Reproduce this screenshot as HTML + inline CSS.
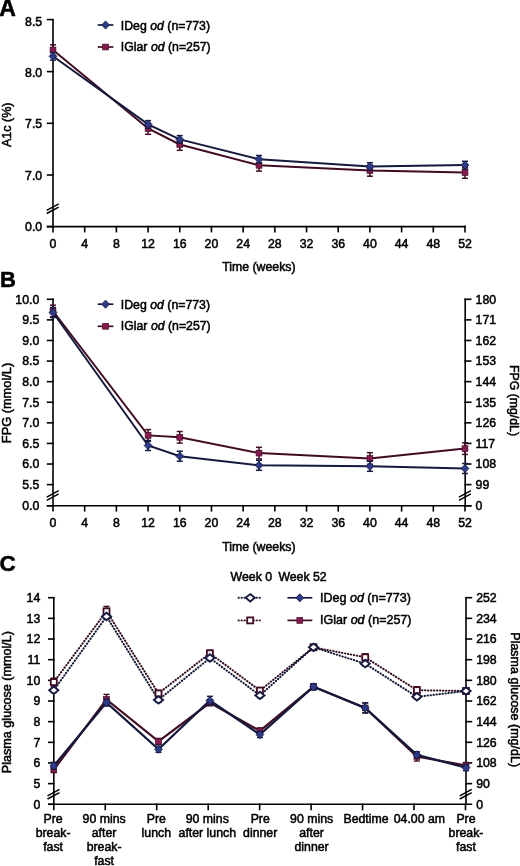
<!DOCTYPE html><html><head><meta charset="utf-8"><style>html,body{margin:0;padding:0;background:#fff;}svg{display:block;} text{stroke:#000;stroke-width:0.5px;}</style></head><body>
<svg width="520" height="866" viewBox="0 0 520 866" font-family="'Liberation Sans', Arial, Helvetica, sans-serif" fill="#000">
<rect width="520" height="866" fill="#fff"/>
<text x="-0.70" y="15.80" font-size="23" font-weight="bold">A</text>
<text x="0.00" y="286.70" font-size="22" font-weight="bold">B</text>
<text x="-0.40" y="570.80" font-size="22.5" font-weight="bold">C</text>
<line x1="53.00" y1="18.90" x2="53.00" y2="226.60" stroke="#000" stroke-width="1.6"/>
<line x1="46.80" y1="19.60" x2="53.80" y2="19.60" stroke="#000" stroke-width="1.6"/>
<text x="42.20" y="25.50" font-size="12.3" text-anchor="end">8.5</text>
<line x1="46.80" y1="71.60" x2="53.80" y2="71.60" stroke="#000" stroke-width="1.6"/>
<text x="42.20" y="77.00" font-size="12.3" text-anchor="end">8.0</text>
<line x1="46.80" y1="123.30" x2="53.80" y2="123.30" stroke="#000" stroke-width="1.6"/>
<text x="42.20" y="127.70" font-size="12.3" text-anchor="end">7.5</text>
<line x1="46.80" y1="175.00" x2="53.80" y2="175.00" stroke="#000" stroke-width="1.6"/>
<text x="42.20" y="179.70" font-size="12.3" text-anchor="end">7.0</text>
<line x1="46.80" y1="226.60" x2="53.80" y2="226.60" stroke="#000" stroke-width="1.6"/>
<text x="42.20" y="231.00" font-size="12.3" text-anchor="end">0.0</text>
<line x1="46.80" y1="226.60" x2="466.00" y2="226.60" stroke="#000" stroke-width="1.6"/>
<line x1="53.00" y1="225.80" x2="53.00" y2="232.40" stroke="#000" stroke-width="1.6"/>
<text x="53.00" y="247.60" font-size="12.3" text-anchor="middle">0</text>
<line x1="84.69" y1="225.80" x2="84.69" y2="232.40" stroke="#000" stroke-width="1.6"/>
<text x="84.69" y="247.60" font-size="12.3" text-anchor="middle">4</text>
<line x1="116.38" y1="225.80" x2="116.38" y2="232.40" stroke="#000" stroke-width="1.6"/>
<text x="116.38" y="247.60" font-size="12.3" text-anchor="middle">8</text>
<line x1="148.08" y1="225.80" x2="148.08" y2="232.40" stroke="#000" stroke-width="1.6"/>
<text x="148.08" y="247.60" font-size="12.3" text-anchor="middle">12</text>
<line x1="179.77" y1="225.80" x2="179.77" y2="232.40" stroke="#000" stroke-width="1.6"/>
<text x="179.77" y="247.60" font-size="12.3" text-anchor="middle">16</text>
<line x1="211.46" y1="225.80" x2="211.46" y2="232.40" stroke="#000" stroke-width="1.6"/>
<text x="211.46" y="247.60" font-size="12.3" text-anchor="middle">20</text>
<line x1="243.15" y1="225.80" x2="243.15" y2="232.40" stroke="#000" stroke-width="1.6"/>
<text x="243.15" y="247.60" font-size="12.3" text-anchor="middle">24</text>
<line x1="274.85" y1="225.80" x2="274.85" y2="232.40" stroke="#000" stroke-width="1.6"/>
<text x="274.85" y="247.60" font-size="12.3" text-anchor="middle">28</text>
<line x1="306.54" y1="225.80" x2="306.54" y2="232.40" stroke="#000" stroke-width="1.6"/>
<text x="306.54" y="247.60" font-size="12.3" text-anchor="middle">32</text>
<line x1="338.23" y1="225.80" x2="338.23" y2="232.40" stroke="#000" stroke-width="1.6"/>
<text x="338.23" y="247.60" font-size="12.3" text-anchor="middle">36</text>
<line x1="369.92" y1="225.80" x2="369.92" y2="232.40" stroke="#000" stroke-width="1.6"/>
<text x="369.92" y="247.60" font-size="12.3" text-anchor="middle">40</text>
<line x1="401.62" y1="225.80" x2="401.62" y2="232.40" stroke="#000" stroke-width="1.6"/>
<text x="401.62" y="247.60" font-size="12.3" text-anchor="middle">44</text>
<line x1="433.31" y1="225.80" x2="433.31" y2="232.40" stroke="#000" stroke-width="1.6"/>
<text x="433.31" y="247.60" font-size="12.3" text-anchor="middle">48</text>
<line x1="465.00" y1="225.80" x2="465.00" y2="232.40" stroke="#000" stroke-width="1.6"/>
<text x="465.00" y="247.60" font-size="12.3" text-anchor="middle">52</text>
<text x="258.90" y="271.40" font-size="12.3" text-anchor="middle">Time (weeks)</text>
<text x="10.60" y="124.75" font-size="12.5" text-anchor="middle" transform="rotate(-90 10.6 124.75)">A1c (%)</text>
<line x1="46.70" y1="210.30" x2="58.70" y2="203.90" stroke="#000" stroke-width="1.5"/>
<line x1="46.70" y1="213.50" x2="58.70" y2="207.10" stroke="#000" stroke-width="1.5"/>
<line x1="97.70" y1="25.00" x2="113.40" y2="25.00" stroke="#151a3c" stroke-width="1.7"/>
<polygon points="105.55,20.90 109.45,25.00 105.55,29.10 101.65,25.00" fill="#2c3a88" stroke="#161a42" stroke-width="0.8"/>
<line x1="97.70" y1="47.00" x2="113.40" y2="47.00" stroke="#400c24" stroke-width="1.7"/>
<rect x="102.65" y="44.10" width="5.80" height="5.80" fill="#861a4e" stroke="#420c26" stroke-width="0.7"/>
<text x="120.80" y="29.60" font-size="12.3">IDeg <tspan font-style="italic">od</tspan> (n=773)</text>
<text x="120.80" y="50.50" font-size="12.3">IGlar <tspan font-style="italic">od</tspan> (n=257)</text>
<line x1="53.00" y1="50.00" x2="53.00" y2="44.80" stroke="#420c26" stroke-width="1.5"/>
<line x1="50.00" y1="44.80" x2="56.00" y2="44.80" stroke="#420c26" stroke-width="1.5"/>
<line x1="53.00" y1="50.00" x2="53.00" y2="55.80" stroke="#420c26" stroke-width="1.5"/>
<line x1="50.00" y1="55.80" x2="56.00" y2="55.80" stroke="#420c26" stroke-width="1.5"/>
<line x1="148.08" y1="128.50" x2="148.08" y2="123.30" stroke="#420c26" stroke-width="1.5"/>
<line x1="145.08" y1="123.30" x2="151.08" y2="123.30" stroke="#420c26" stroke-width="1.5"/>
<line x1="148.08" y1="128.50" x2="148.08" y2="134.30" stroke="#420c26" stroke-width="1.5"/>
<line x1="145.08" y1="134.30" x2="151.08" y2="134.30" stroke="#420c26" stroke-width="1.5"/>
<line x1="179.77" y1="144.50" x2="179.77" y2="139.30" stroke="#420c26" stroke-width="1.5"/>
<line x1="176.77" y1="139.30" x2="182.77" y2="139.30" stroke="#420c26" stroke-width="1.5"/>
<line x1="179.77" y1="144.50" x2="179.77" y2="150.30" stroke="#420c26" stroke-width="1.5"/>
<line x1="176.77" y1="150.30" x2="182.77" y2="150.30" stroke="#420c26" stroke-width="1.5"/>
<line x1="259.00" y1="165.30" x2="259.00" y2="160.10" stroke="#420c26" stroke-width="1.5"/>
<line x1="256.00" y1="160.10" x2="262.00" y2="160.10" stroke="#420c26" stroke-width="1.5"/>
<line x1="259.00" y1="165.30" x2="259.00" y2="171.10" stroke="#420c26" stroke-width="1.5"/>
<line x1="256.00" y1="171.10" x2="262.00" y2="171.10" stroke="#420c26" stroke-width="1.5"/>
<line x1="369.92" y1="170.40" x2="369.92" y2="165.20" stroke="#420c26" stroke-width="1.5"/>
<line x1="366.92" y1="165.20" x2="372.92" y2="165.20" stroke="#420c26" stroke-width="1.5"/>
<line x1="369.92" y1="170.40" x2="369.92" y2="176.20" stroke="#420c26" stroke-width="1.5"/>
<line x1="366.92" y1="176.20" x2="372.92" y2="176.20" stroke="#420c26" stroke-width="1.5"/>
<line x1="465.00" y1="172.50" x2="465.00" y2="167.30" stroke="#420c26" stroke-width="1.5"/>
<line x1="462.00" y1="167.30" x2="468.00" y2="167.30" stroke="#420c26" stroke-width="1.5"/>
<line x1="465.00" y1="172.50" x2="465.00" y2="178.30" stroke="#420c26" stroke-width="1.5"/>
<line x1="462.00" y1="178.30" x2="468.00" y2="178.30" stroke="#420c26" stroke-width="1.5"/>
<polyline points="53.00,50.00 148.08,128.50 179.77,144.50 259.00,165.30 369.92,170.40 465.00,172.50" fill="none" stroke="#400c24" stroke-width="2.0" stroke-linejoin="miter"/>
<rect x="50.10" y="47.10" width="5.80" height="5.80" fill="#861a4e" stroke="#420c26" stroke-width="0.7"/>
<rect x="145.18" y="125.60" width="5.80" height="5.80" fill="#861a4e" stroke="#420c26" stroke-width="0.7"/>
<rect x="176.87" y="141.60" width="5.80" height="5.80" fill="#861a4e" stroke="#420c26" stroke-width="0.7"/>
<rect x="256.10" y="162.40" width="5.80" height="5.80" fill="#861a4e" stroke="#420c26" stroke-width="0.7"/>
<rect x="367.02" y="167.50" width="5.80" height="5.80" fill="#861a4e" stroke="#420c26" stroke-width="0.7"/>
<rect x="462.10" y="169.60" width="5.80" height="5.80" fill="#861a4e" stroke="#420c26" stroke-width="0.7"/>
<line x1="53.00" y1="56.30" x2="53.00" y2="52.50" stroke="#161a42" stroke-width="1.5"/>
<line x1="50.00" y1="52.50" x2="56.00" y2="52.50" stroke="#161a42" stroke-width="1.5"/>
<line x1="53.00" y1="56.30" x2="53.00" y2="60.10" stroke="#161a42" stroke-width="1.5"/>
<line x1="50.00" y1="60.10" x2="56.00" y2="60.10" stroke="#161a42" stroke-width="1.5"/>
<line x1="148.08" y1="124.40" x2="148.08" y2="120.60" stroke="#161a42" stroke-width="1.5"/>
<line x1="145.08" y1="120.60" x2="151.08" y2="120.60" stroke="#161a42" stroke-width="1.5"/>
<line x1="148.08" y1="124.40" x2="148.08" y2="128.20" stroke="#161a42" stroke-width="1.5"/>
<line x1="145.08" y1="128.20" x2="151.08" y2="128.20" stroke="#161a42" stroke-width="1.5"/>
<line x1="179.77" y1="139.40" x2="179.77" y2="135.60" stroke="#161a42" stroke-width="1.5"/>
<line x1="176.77" y1="135.60" x2="182.77" y2="135.60" stroke="#161a42" stroke-width="1.5"/>
<line x1="179.77" y1="139.40" x2="179.77" y2="143.20" stroke="#161a42" stroke-width="1.5"/>
<line x1="176.77" y1="143.20" x2="182.77" y2="143.20" stroke="#161a42" stroke-width="1.5"/>
<line x1="259.00" y1="159.30" x2="259.00" y2="155.50" stroke="#161a42" stroke-width="1.5"/>
<line x1="256.00" y1="155.50" x2="262.00" y2="155.50" stroke="#161a42" stroke-width="1.5"/>
<line x1="259.00" y1="159.30" x2="259.00" y2="163.10" stroke="#161a42" stroke-width="1.5"/>
<line x1="256.00" y1="163.10" x2="262.00" y2="163.10" stroke="#161a42" stroke-width="1.5"/>
<line x1="369.92" y1="166.50" x2="369.92" y2="162.70" stroke="#161a42" stroke-width="1.5"/>
<line x1="366.92" y1="162.70" x2="372.92" y2="162.70" stroke="#161a42" stroke-width="1.5"/>
<line x1="369.92" y1="166.50" x2="369.92" y2="170.30" stroke="#161a42" stroke-width="1.5"/>
<line x1="366.92" y1="170.30" x2="372.92" y2="170.30" stroke="#161a42" stroke-width="1.5"/>
<line x1="465.00" y1="165.10" x2="465.00" y2="161.30" stroke="#161a42" stroke-width="1.5"/>
<line x1="462.00" y1="161.30" x2="468.00" y2="161.30" stroke="#161a42" stroke-width="1.5"/>
<line x1="465.00" y1="165.10" x2="465.00" y2="168.90" stroke="#161a42" stroke-width="1.5"/>
<line x1="462.00" y1="168.90" x2="468.00" y2="168.90" stroke="#161a42" stroke-width="1.5"/>
<polyline points="53.00,56.30 148.08,124.40 179.77,139.40 259.00,159.30 369.92,166.50 465.00,165.10" fill="none" stroke="#151a3c" stroke-width="2.0" stroke-linejoin="miter"/>
<polygon points="53.00,52.20 56.90,56.30 53.00,60.40 49.10,56.30" fill="#2c3a88" stroke="#161a42" stroke-width="0.8"/>
<polygon points="148.08,120.30 151.98,124.40 148.08,128.50 144.18,124.40" fill="#2c3a88" stroke="#161a42" stroke-width="0.8"/>
<polygon points="179.77,135.30 183.67,139.40 179.77,143.50 175.87,139.40" fill="#2c3a88" stroke="#161a42" stroke-width="0.8"/>
<polygon points="259.00,155.20 262.90,159.30 259.00,163.40 255.10,159.30" fill="#2c3a88" stroke="#161a42" stroke-width="0.8"/>
<polygon points="369.92,162.40 373.82,166.50 369.92,170.60 366.02,166.50" fill="#2c3a88" stroke="#161a42" stroke-width="0.8"/>
<polygon points="465.00,161.00 468.90,165.10 465.00,169.20 461.10,165.10" fill="#2c3a88" stroke="#161a42" stroke-width="0.8"/>
<line x1="53.00" y1="298.60" x2="53.00" y2="505.80" stroke="#000" stroke-width="1.6"/>
<line x1="46.80" y1="299.30" x2="53.80" y2="299.30" stroke="#000" stroke-width="1.6"/>
<text x="39.30" y="303.70" font-size="12.3" text-anchor="end">10.0</text>
<line x1="46.80" y1="319.89" x2="53.80" y2="319.89" stroke="#000" stroke-width="1.6"/>
<text x="39.30" y="324.29" font-size="12.3" text-anchor="end">9.5</text>
<line x1="46.80" y1="340.48" x2="53.80" y2="340.48" stroke="#000" stroke-width="1.6"/>
<text x="39.30" y="344.88" font-size="12.3" text-anchor="end">9.0</text>
<line x1="46.80" y1="361.07" x2="53.80" y2="361.07" stroke="#000" stroke-width="1.6"/>
<text x="39.30" y="365.47" font-size="12.3" text-anchor="end">8.5</text>
<line x1="46.80" y1="381.66" x2="53.80" y2="381.66" stroke="#000" stroke-width="1.6"/>
<text x="39.30" y="386.06" font-size="12.3" text-anchor="end">8.0</text>
<line x1="46.80" y1="402.25" x2="53.80" y2="402.25" stroke="#000" stroke-width="1.6"/>
<text x="39.30" y="406.65" font-size="12.3" text-anchor="end">7.5</text>
<line x1="46.80" y1="422.84" x2="53.80" y2="422.84" stroke="#000" stroke-width="1.6"/>
<text x="39.30" y="427.24" font-size="12.3" text-anchor="end">7.0</text>
<line x1="46.80" y1="443.43" x2="53.80" y2="443.43" stroke="#000" stroke-width="1.6"/>
<text x="39.30" y="447.83" font-size="12.3" text-anchor="end">6.5</text>
<line x1="46.80" y1="464.02" x2="53.80" y2="464.02" stroke="#000" stroke-width="1.6"/>
<text x="39.30" y="468.42" font-size="12.3" text-anchor="end">6.0</text>
<line x1="46.80" y1="484.61" x2="53.80" y2="484.61" stroke="#000" stroke-width="1.6"/>
<text x="39.30" y="489.01" font-size="12.3" text-anchor="end">5.5</text>
<line x1="46.80" y1="505.80" x2="53.80" y2="505.80" stroke="#000" stroke-width="1.6"/>
<text x="39.30" y="510.20" font-size="12.3" text-anchor="end">0.0</text>
<line x1="46.80" y1="505.80" x2="471.50" y2="505.80" stroke="#000" stroke-width="1.6"/>
<line x1="53.00" y1="505.00" x2="53.00" y2="511.60" stroke="#000" stroke-width="1.6"/>
<text x="53.00" y="526.80" font-size="12.3" text-anchor="middle">0</text>
<line x1="84.69" y1="505.00" x2="84.69" y2="511.60" stroke="#000" stroke-width="1.6"/>
<text x="84.69" y="526.80" font-size="12.3" text-anchor="middle">4</text>
<line x1="116.38" y1="505.00" x2="116.38" y2="511.60" stroke="#000" stroke-width="1.6"/>
<text x="116.38" y="526.80" font-size="12.3" text-anchor="middle">8</text>
<line x1="148.08" y1="505.00" x2="148.08" y2="511.60" stroke="#000" stroke-width="1.6"/>
<text x="148.08" y="526.80" font-size="12.3" text-anchor="middle">12</text>
<line x1="179.77" y1="505.00" x2="179.77" y2="511.60" stroke="#000" stroke-width="1.6"/>
<text x="179.77" y="526.80" font-size="12.3" text-anchor="middle">16</text>
<line x1="211.46" y1="505.00" x2="211.46" y2="511.60" stroke="#000" stroke-width="1.6"/>
<text x="211.46" y="526.80" font-size="12.3" text-anchor="middle">20</text>
<line x1="243.15" y1="505.00" x2="243.15" y2="511.60" stroke="#000" stroke-width="1.6"/>
<text x="243.15" y="526.80" font-size="12.3" text-anchor="middle">24</text>
<line x1="274.85" y1="505.00" x2="274.85" y2="511.60" stroke="#000" stroke-width="1.6"/>
<text x="274.85" y="526.80" font-size="12.3" text-anchor="middle">28</text>
<line x1="306.54" y1="505.00" x2="306.54" y2="511.60" stroke="#000" stroke-width="1.6"/>
<text x="306.54" y="526.80" font-size="12.3" text-anchor="middle">32</text>
<line x1="338.23" y1="505.00" x2="338.23" y2="511.60" stroke="#000" stroke-width="1.6"/>
<text x="338.23" y="526.80" font-size="12.3" text-anchor="middle">36</text>
<line x1="369.92" y1="505.00" x2="369.92" y2="511.60" stroke="#000" stroke-width="1.6"/>
<text x="369.92" y="526.80" font-size="12.3" text-anchor="middle">40</text>
<line x1="401.62" y1="505.00" x2="401.62" y2="511.60" stroke="#000" stroke-width="1.6"/>
<text x="401.62" y="526.80" font-size="12.3" text-anchor="middle">44</text>
<line x1="433.31" y1="505.00" x2="433.31" y2="511.60" stroke="#000" stroke-width="1.6"/>
<text x="433.31" y="526.80" font-size="12.3" text-anchor="middle">48</text>
<line x1="465.00" y1="505.00" x2="465.00" y2="511.60" stroke="#000" stroke-width="1.6"/>
<text x="465.00" y="526.80" font-size="12.3" text-anchor="middle">52</text>
<text x="258.90" y="550.60" font-size="12.3" text-anchor="middle">Time (weeks)</text>
<text x="10.60" y="403.00" font-size="12.8" text-anchor="middle" transform="rotate(-90 10.6 403.0)">FPG (mmol/L)</text>
<line x1="465.20" y1="298.60" x2="465.20" y2="505.80" stroke="#000" stroke-width="1.6"/>
<line x1="464.40" y1="299.30" x2="471.50" y2="299.30" stroke="#000" stroke-width="1.6"/>
<text x="475.60" y="303.70" font-size="12.3">180</text>
<line x1="464.40" y1="319.89" x2="471.50" y2="319.89" stroke="#000" stroke-width="1.6"/>
<text x="475.60" y="324.29" font-size="12.3">171</text>
<line x1="464.40" y1="340.48" x2="471.50" y2="340.48" stroke="#000" stroke-width="1.6"/>
<text x="475.60" y="344.88" font-size="12.3">162</text>
<line x1="464.40" y1="361.07" x2="471.50" y2="361.07" stroke="#000" stroke-width="1.6"/>
<text x="475.60" y="365.47" font-size="12.3">153</text>
<line x1="464.40" y1="381.66" x2="471.50" y2="381.66" stroke="#000" stroke-width="1.6"/>
<text x="475.60" y="386.06" font-size="12.3">144</text>
<line x1="464.40" y1="402.25" x2="471.50" y2="402.25" stroke="#000" stroke-width="1.6"/>
<text x="475.60" y="406.65" font-size="12.3">135</text>
<line x1="464.40" y1="422.84" x2="471.50" y2="422.84" stroke="#000" stroke-width="1.6"/>
<text x="475.60" y="427.24" font-size="12.3">126</text>
<line x1="464.40" y1="443.43" x2="471.50" y2="443.43" stroke="#000" stroke-width="1.6"/>
<text x="475.60" y="447.83" font-size="12.3">117</text>
<line x1="464.40" y1="464.02" x2="471.50" y2="464.02" stroke="#000" stroke-width="1.6"/>
<text x="475.60" y="468.42" font-size="12.3">108</text>
<line x1="464.40" y1="484.61" x2="471.50" y2="484.61" stroke="#000" stroke-width="1.6"/>
<text x="475.60" y="489.01" font-size="12.3">99</text>
<line x1="464.40" y1="505.80" x2="471.50" y2="505.80" stroke="#000" stroke-width="1.6"/>
<text x="475.60" y="510.20" font-size="12.3">0</text>
<text x="510.30" y="365.00" font-size="12.3" transform="rotate(90 510.3 365.0)">FPG (mg/dL)</text>
<line x1="46.70" y1="497.10" x2="58.70" y2="490.70" stroke="#000" stroke-width="1.5"/>
<line x1="46.70" y1="500.30" x2="58.70" y2="493.90" stroke="#000" stroke-width="1.5"/>
<line x1="458.90" y1="497.10" x2="470.90" y2="490.70" stroke="#000" stroke-width="1.5"/>
<line x1="458.90" y1="500.30" x2="470.90" y2="493.90" stroke="#000" stroke-width="1.5"/>
<line x1="97.70" y1="304.20" x2="113.40" y2="304.20" stroke="#151a3c" stroke-width="1.7"/>
<polygon points="105.55,300.10 109.45,304.20 105.55,308.30 101.65,304.20" fill="#2c3a88" stroke="#161a42" stroke-width="0.8"/>
<line x1="97.70" y1="326.30" x2="113.40" y2="326.30" stroke="#400c24" stroke-width="1.7"/>
<rect x="102.65" y="323.40" width="5.80" height="5.80" fill="#861a4e" stroke="#420c26" stroke-width="0.7"/>
<text x="120.80" y="308.80" font-size="12.3">IDeg <tspan font-style="italic">od</tspan> (n=773)</text>
<text x="120.80" y="329.80" font-size="12.3">IGlar <tspan font-style="italic">od</tspan> (n=257)</text>
<line x1="53.00" y1="311.00" x2="53.00" y2="305.20" stroke="#420c26" stroke-width="1.5"/>
<line x1="50.00" y1="305.20" x2="56.00" y2="305.20" stroke="#420c26" stroke-width="1.5"/>
<line x1="53.00" y1="311.00" x2="53.00" y2="316.80" stroke="#420c26" stroke-width="1.5"/>
<line x1="50.00" y1="316.80" x2="56.00" y2="316.80" stroke="#420c26" stroke-width="1.5"/>
<line x1="148.08" y1="435.40" x2="148.08" y2="429.60" stroke="#420c26" stroke-width="1.5"/>
<line x1="145.08" y1="429.60" x2="151.08" y2="429.60" stroke="#420c26" stroke-width="1.5"/>
<line x1="148.08" y1="435.40" x2="148.08" y2="441.20" stroke="#420c26" stroke-width="1.5"/>
<line x1="145.08" y1="441.20" x2="151.08" y2="441.20" stroke="#420c26" stroke-width="1.5"/>
<line x1="179.77" y1="437.30" x2="179.77" y2="431.50" stroke="#420c26" stroke-width="1.5"/>
<line x1="176.77" y1="431.50" x2="182.77" y2="431.50" stroke="#420c26" stroke-width="1.5"/>
<line x1="179.77" y1="437.30" x2="179.77" y2="443.10" stroke="#420c26" stroke-width="1.5"/>
<line x1="176.77" y1="443.10" x2="182.77" y2="443.10" stroke="#420c26" stroke-width="1.5"/>
<line x1="259.00" y1="453.10" x2="259.00" y2="447.30" stroke="#420c26" stroke-width="1.5"/>
<line x1="256.00" y1="447.30" x2="262.00" y2="447.30" stroke="#420c26" stroke-width="1.5"/>
<line x1="259.00" y1="453.10" x2="259.00" y2="458.90" stroke="#420c26" stroke-width="1.5"/>
<line x1="256.00" y1="458.90" x2="262.00" y2="458.90" stroke="#420c26" stroke-width="1.5"/>
<line x1="369.92" y1="458.50" x2="369.92" y2="452.70" stroke="#420c26" stroke-width="1.5"/>
<line x1="366.92" y1="452.70" x2="372.92" y2="452.70" stroke="#420c26" stroke-width="1.5"/>
<line x1="369.92" y1="458.50" x2="369.92" y2="464.30" stroke="#420c26" stroke-width="1.5"/>
<line x1="366.92" y1="464.30" x2="372.92" y2="464.30" stroke="#420c26" stroke-width="1.5"/>
<line x1="465.00" y1="448.60" x2="465.00" y2="442.80" stroke="#420c26" stroke-width="1.5"/>
<line x1="462.00" y1="442.80" x2="468.00" y2="442.80" stroke="#420c26" stroke-width="1.5"/>
<line x1="465.00" y1="448.60" x2="465.00" y2="454.40" stroke="#420c26" stroke-width="1.5"/>
<line x1="462.00" y1="454.40" x2="468.00" y2="454.40" stroke="#420c26" stroke-width="1.5"/>
<polyline points="53.00,311.00 148.08,435.40 179.77,437.30 259.00,453.10 369.92,458.50 465.00,448.60" fill="none" stroke="#400c24" stroke-width="2.0" stroke-linejoin="miter"/>
<rect x="50.10" y="308.10" width="5.80" height="5.80" fill="#861a4e" stroke="#420c26" stroke-width="0.7"/>
<rect x="145.18" y="432.50" width="5.80" height="5.80" fill="#861a4e" stroke="#420c26" stroke-width="0.7"/>
<rect x="176.87" y="434.40" width="5.80" height="5.80" fill="#861a4e" stroke="#420c26" stroke-width="0.7"/>
<rect x="256.10" y="450.20" width="5.80" height="5.80" fill="#861a4e" stroke="#420c26" stroke-width="0.7"/>
<rect x="367.02" y="455.60" width="5.80" height="5.80" fill="#861a4e" stroke="#420c26" stroke-width="0.7"/>
<rect x="462.10" y="445.70" width="5.80" height="5.80" fill="#861a4e" stroke="#420c26" stroke-width="0.7"/>
<line x1="53.00" y1="312.50" x2="53.00" y2="307.50" stroke="#161a42" stroke-width="1.5"/>
<line x1="50.00" y1="307.50" x2="56.00" y2="307.50" stroke="#161a42" stroke-width="1.5"/>
<line x1="53.00" y1="312.50" x2="53.00" y2="317.50" stroke="#161a42" stroke-width="1.5"/>
<line x1="50.00" y1="317.50" x2="56.00" y2="317.50" stroke="#161a42" stroke-width="1.5"/>
<line x1="148.08" y1="445.50" x2="148.08" y2="440.50" stroke="#161a42" stroke-width="1.5"/>
<line x1="145.08" y1="440.50" x2="151.08" y2="440.50" stroke="#161a42" stroke-width="1.5"/>
<line x1="148.08" y1="445.50" x2="148.08" y2="450.50" stroke="#161a42" stroke-width="1.5"/>
<line x1="145.08" y1="450.50" x2="151.08" y2="450.50" stroke="#161a42" stroke-width="1.5"/>
<line x1="179.77" y1="456.20" x2="179.77" y2="451.20" stroke="#161a42" stroke-width="1.5"/>
<line x1="176.77" y1="451.20" x2="182.77" y2="451.20" stroke="#161a42" stroke-width="1.5"/>
<line x1="179.77" y1="456.20" x2="179.77" y2="461.20" stroke="#161a42" stroke-width="1.5"/>
<line x1="176.77" y1="461.20" x2="182.77" y2="461.20" stroke="#161a42" stroke-width="1.5"/>
<line x1="259.00" y1="465.30" x2="259.00" y2="460.30" stroke="#161a42" stroke-width="1.5"/>
<line x1="256.00" y1="460.30" x2="262.00" y2="460.30" stroke="#161a42" stroke-width="1.5"/>
<line x1="259.00" y1="465.30" x2="259.00" y2="470.30" stroke="#161a42" stroke-width="1.5"/>
<line x1="256.00" y1="470.30" x2="262.00" y2="470.30" stroke="#161a42" stroke-width="1.5"/>
<line x1="369.92" y1="466.30" x2="369.92" y2="461.30" stroke="#161a42" stroke-width="1.5"/>
<line x1="366.92" y1="461.30" x2="372.92" y2="461.30" stroke="#161a42" stroke-width="1.5"/>
<line x1="369.92" y1="466.30" x2="369.92" y2="471.30" stroke="#161a42" stroke-width="1.5"/>
<line x1="366.92" y1="471.30" x2="372.92" y2="471.30" stroke="#161a42" stroke-width="1.5"/>
<line x1="465.00" y1="468.50" x2="465.00" y2="463.50" stroke="#161a42" stroke-width="1.5"/>
<line x1="462.00" y1="463.50" x2="468.00" y2="463.50" stroke="#161a42" stroke-width="1.5"/>
<line x1="465.00" y1="468.50" x2="465.00" y2="473.50" stroke="#161a42" stroke-width="1.5"/>
<line x1="462.00" y1="473.50" x2="468.00" y2="473.50" stroke="#161a42" stroke-width="1.5"/>
<polyline points="53.00,312.50 148.08,445.50 179.77,456.20 259.00,465.30 369.92,466.30 465.00,468.50" fill="none" stroke="#151a3c" stroke-width="2.0" stroke-linejoin="miter"/>
<polygon points="53.00,308.40 56.90,312.50 53.00,316.60 49.10,312.50" fill="#2c3a88" stroke="#161a42" stroke-width="0.8"/>
<polygon points="148.08,441.40 151.98,445.50 148.08,449.60 144.18,445.50" fill="#2c3a88" stroke="#161a42" stroke-width="0.8"/>
<polygon points="179.77,452.10 183.67,456.20 179.77,460.30 175.87,456.20" fill="#2c3a88" stroke="#161a42" stroke-width="0.8"/>
<polygon points="259.00,461.20 262.90,465.30 259.00,469.40 255.10,465.30" fill="#2c3a88" stroke="#161a42" stroke-width="0.8"/>
<polygon points="369.92,462.20 373.82,466.30 369.92,470.40 366.02,466.30" fill="#2c3a88" stroke="#161a42" stroke-width="0.8"/>
<polygon points="465.00,464.40 468.90,468.50 465.00,472.60 461.10,468.50" fill="#2c3a88" stroke="#161a42" stroke-width="0.8"/>
<line x1="53.80" y1="597.00" x2="53.80" y2="804.30" stroke="#000" stroke-width="1.6"/>
<line x1="466.00" y1="597.00" x2="466.00" y2="804.30" stroke="#000" stroke-width="1.6"/>
<line x1="48.00" y1="804.30" x2="472.20" y2="804.30" stroke="#000" stroke-width="1.6"/>
<line x1="48.00" y1="597.70" x2="54.60" y2="597.70" stroke="#000" stroke-width="1.6"/>
<text x="40.30" y="602.10" font-size="12.3" text-anchor="end">14</text>
<line x1="465.20" y1="597.70" x2="472.20" y2="597.70" stroke="#000" stroke-width="1.6"/>
<text x="476.20" y="602.10" font-size="12.3">252</text>
<line x1="48.00" y1="618.36" x2="54.60" y2="618.36" stroke="#000" stroke-width="1.6"/>
<text x="40.30" y="622.76" font-size="12.3" text-anchor="end">13</text>
<line x1="465.20" y1="618.36" x2="472.20" y2="618.36" stroke="#000" stroke-width="1.6"/>
<text x="476.20" y="622.76" font-size="12.3">234</text>
<line x1="48.00" y1="639.02" x2="54.60" y2="639.02" stroke="#000" stroke-width="1.6"/>
<text x="40.30" y="643.42" font-size="12.3" text-anchor="end">12</text>
<line x1="465.20" y1="639.02" x2="472.20" y2="639.02" stroke="#000" stroke-width="1.6"/>
<text x="476.20" y="643.42" font-size="12.3">216</text>
<line x1="48.00" y1="659.68" x2="54.60" y2="659.68" stroke="#000" stroke-width="1.6"/>
<text x="40.30" y="664.08" font-size="12.3" text-anchor="end">11</text>
<line x1="465.20" y1="659.68" x2="472.20" y2="659.68" stroke="#000" stroke-width="1.6"/>
<text x="476.20" y="664.08" font-size="12.3">198</text>
<line x1="48.00" y1="680.34" x2="54.60" y2="680.34" stroke="#000" stroke-width="1.6"/>
<text x="40.30" y="684.74" font-size="12.3" text-anchor="end">10</text>
<line x1="465.20" y1="680.34" x2="472.20" y2="680.34" stroke="#000" stroke-width="1.6"/>
<text x="476.20" y="684.74" font-size="12.3">180</text>
<line x1="48.00" y1="701.00" x2="54.60" y2="701.00" stroke="#000" stroke-width="1.6"/>
<text x="40.30" y="705.40" font-size="12.3" text-anchor="end">9</text>
<line x1="465.20" y1="701.00" x2="472.20" y2="701.00" stroke="#000" stroke-width="1.6"/>
<text x="476.20" y="705.40" font-size="12.3">162</text>
<line x1="48.00" y1="721.66" x2="54.60" y2="721.66" stroke="#000" stroke-width="1.6"/>
<text x="40.30" y="726.06" font-size="12.3" text-anchor="end">8</text>
<line x1="465.20" y1="721.66" x2="472.20" y2="721.66" stroke="#000" stroke-width="1.6"/>
<text x="476.20" y="726.06" font-size="12.3">144</text>
<line x1="48.00" y1="742.32" x2="54.60" y2="742.32" stroke="#000" stroke-width="1.6"/>
<text x="40.30" y="746.72" font-size="12.3" text-anchor="end">7</text>
<line x1="465.20" y1="742.32" x2="472.20" y2="742.32" stroke="#000" stroke-width="1.6"/>
<text x="476.20" y="746.72" font-size="12.3">126</text>
<line x1="48.00" y1="762.98" x2="54.60" y2="762.98" stroke="#000" stroke-width="1.6"/>
<text x="40.30" y="767.38" font-size="12.3" text-anchor="end">6</text>
<line x1="465.20" y1="762.98" x2="472.20" y2="762.98" stroke="#000" stroke-width="1.6"/>
<text x="476.20" y="767.38" font-size="12.3">108</text>
<line x1="48.00" y1="783.64" x2="54.60" y2="783.64" stroke="#000" stroke-width="1.6"/>
<text x="40.30" y="788.04" font-size="12.3" text-anchor="end">5</text>
<line x1="465.20" y1="783.64" x2="472.20" y2="783.64" stroke="#000" stroke-width="1.6"/>
<text x="476.20" y="788.04" font-size="12.3">90</text>
<line x1="48.00" y1="804.30" x2="53.80" y2="804.30" stroke="#000" stroke-width="1.6"/>
<text x="40.30" y="808.70" font-size="12.3" text-anchor="end">0</text>
<text x="476.20" y="808.70" font-size="12.3">0</text>
<line x1="47.50" y1="795.80" x2="59.50" y2="789.40" stroke="#000" stroke-width="1.5"/>
<line x1="47.50" y1="799.00" x2="59.50" y2="792.60" stroke="#000" stroke-width="1.5"/>
<line x1="459.70" y1="795.80" x2="471.70" y2="789.40" stroke="#000" stroke-width="1.5"/>
<line x1="459.70" y1="799.00" x2="471.70" y2="792.60" stroke="#000" stroke-width="1.5"/>
<line x1="53.80" y1="803.50" x2="53.80" y2="810.30" stroke="#000" stroke-width="1.6"/>
<line x1="105.26" y1="803.50" x2="105.26" y2="810.30" stroke="#000" stroke-width="1.6"/>
<line x1="156.72" y1="803.50" x2="156.72" y2="810.30" stroke="#000" stroke-width="1.6"/>
<line x1="208.18" y1="803.50" x2="208.18" y2="810.30" stroke="#000" stroke-width="1.6"/>
<line x1="259.64" y1="803.50" x2="259.64" y2="810.30" stroke="#000" stroke-width="1.6"/>
<line x1="311.10" y1="803.50" x2="311.10" y2="810.30" stroke="#000" stroke-width="1.6"/>
<line x1="362.56" y1="803.50" x2="362.56" y2="810.30" stroke="#000" stroke-width="1.6"/>
<line x1="414.02" y1="803.50" x2="414.02" y2="810.30" stroke="#000" stroke-width="1.6"/>
<line x1="465.48" y1="803.50" x2="465.48" y2="810.30" stroke="#000" stroke-width="1.6"/>
<text x="53.10" y="823.30" font-size="12.3" text-anchor="middle">Pre</text>
<text x="53.10" y="837.20" font-size="12.3" text-anchor="middle">break-</text>
<text x="53.10" y="851.10" font-size="12.3" text-anchor="middle">fast</text>
<text x="104.10" y="823.30" font-size="12.3" text-anchor="middle">90 mins</text>
<text x="104.10" y="837.20" font-size="12.3" text-anchor="middle">after</text>
<text x="104.10" y="851.10" font-size="12.3" text-anchor="middle">break-</text>
<text x="104.10" y="865.00" font-size="12.3" text-anchor="middle">fast</text>
<text x="156.30" y="823.30" font-size="12.3" text-anchor="middle">Pre</text>
<text x="156.30" y="837.20" font-size="12.3" text-anchor="middle">lunch</text>
<text x="207.30" y="823.30" font-size="12.3" text-anchor="middle">90 mins</text>
<text x="207.30" y="837.20" font-size="12.3" text-anchor="middle">after lunch</text>
<text x="260.20" y="823.30" font-size="12.3" text-anchor="middle">Pre</text>
<text x="260.20" y="837.20" font-size="12.3" text-anchor="middle">dinner</text>
<text x="311.60" y="823.30" font-size="12.3" text-anchor="middle">90 mins</text>
<text x="311.60" y="837.20" font-size="12.3" text-anchor="middle">after</text>
<text x="311.60" y="851.10" font-size="12.3" text-anchor="middle">dinner</text>
<text x="366.00" y="823.30" font-size="12.3" text-anchor="middle">Bedtime</text>
<text x="419.40" y="823.30" font-size="12.3" text-anchor="middle">04.00 am</text>
<text x="466.00" y="823.30" font-size="12.3" text-anchor="middle">Pre</text>
<text x="466.00" y="837.20" font-size="12.3" text-anchor="middle">break-</text>
<text x="466.00" y="851.10" font-size="12.3" text-anchor="middle">fast</text>
<text x="10.70" y="702.10" font-size="12.6" text-anchor="middle" transform="rotate(-90 10.7 702.1)">Plasma glucose (mmol/L)</text>
<text x="510.90" y="632.30" font-size="12.5" transform="rotate(90 510.9 632.3)">Plasma glucose (mg/dL)</text>
<text x="230.60" y="581.20" font-size="12.3">Week 0</text>
<text x="278.40" y="581.00" font-size="12.3">Week 52</text>
<line x1="238.50" y1="597.80" x2="261.50" y2="597.80" stroke="#121634" stroke-width="1.9" stroke-dasharray="0.4 2.6" stroke-linecap="round"/>
<line x1="238.50" y1="620.40" x2="261.50" y2="620.40" stroke="#2e0a1c" stroke-width="1.9" stroke-dasharray="0.4 2.6" stroke-linecap="round"/>
<polygon points="250.20,594.10 254.80,597.80 250.20,601.50 245.60,597.80" fill="#fff" stroke="#161a42" stroke-width="1.9"/>
<rect x="247.20" y="617.40" width="6.00" height="6.00" fill="#fff" stroke="#420c26" stroke-width="1.8"/>
<line x1="287.40" y1="597.80" x2="312.30" y2="597.80" stroke="#151a3c" stroke-width="1.7"/>
<polygon points="299.80,593.70 303.70,597.80 299.80,601.90 295.90,597.80" fill="#2c3a88" stroke="#161a42" stroke-width="0.8"/>
<line x1="287.40" y1="620.40" x2="312.30" y2="620.40" stroke="#400c24" stroke-width="1.7"/>
<rect x="296.90" y="617.50" width="5.80" height="5.80" fill="#861a4e" stroke="#420c26" stroke-width="0.7"/>
<text x="320.10" y="602.40" font-size="12.5">IDeg <tspan font-style="italic">od</tspan> (n=773)</text>
<text x="320.10" y="624.00" font-size="12.5">IGlar <tspan font-style="italic">od</tspan> (n=257)</text>
<line x1="53.80" y1="682.10" x2="53.80" y2="678.10" stroke="#420c26" stroke-width="1.4"/>
<line x1="50.80" y1="678.10" x2="56.80" y2="678.10" stroke="#420c26" stroke-width="1.4"/>
<line x1="53.80" y1="682.10" x2="53.80" y2="686.10" stroke="#420c26" stroke-width="1.4"/>
<line x1="50.80" y1="686.10" x2="56.80" y2="686.10" stroke="#420c26" stroke-width="1.4"/>
<line x1="106.50" y1="611.30" x2="106.50" y2="606.40" stroke="#420c26" stroke-width="1.4"/>
<line x1="103.50" y1="606.40" x2="109.50" y2="606.40" stroke="#420c26" stroke-width="1.4"/>
<line x1="106.50" y1="611.30" x2="106.50" y2="616.20" stroke="#420c26" stroke-width="1.4"/>
<line x1="103.50" y1="616.20" x2="109.50" y2="616.20" stroke="#420c26" stroke-width="1.4"/>
<line x1="158.50" y1="693.40" x2="158.50" y2="690.40" stroke="#420c26" stroke-width="1.4"/>
<line x1="155.50" y1="690.40" x2="161.50" y2="690.40" stroke="#420c26" stroke-width="1.4"/>
<line x1="158.50" y1="693.40" x2="158.50" y2="696.40" stroke="#420c26" stroke-width="1.4"/>
<line x1="155.50" y1="696.40" x2="161.50" y2="696.40" stroke="#420c26" stroke-width="1.4"/>
<line x1="209.90" y1="653.30" x2="209.90" y2="650.30" stroke="#420c26" stroke-width="1.4"/>
<line x1="206.90" y1="650.30" x2="212.90" y2="650.30" stroke="#420c26" stroke-width="1.4"/>
<line x1="209.90" y1="653.30" x2="209.90" y2="656.30" stroke="#420c26" stroke-width="1.4"/>
<line x1="206.90" y1="656.30" x2="212.90" y2="656.30" stroke="#420c26" stroke-width="1.4"/>
<line x1="259.90" y1="690.60" x2="259.90" y2="687.60" stroke="#420c26" stroke-width="1.4"/>
<line x1="256.90" y1="687.60" x2="262.90" y2="687.60" stroke="#420c26" stroke-width="1.4"/>
<line x1="259.90" y1="690.60" x2="259.90" y2="693.60" stroke="#420c26" stroke-width="1.4"/>
<line x1="256.90" y1="693.60" x2="262.90" y2="693.60" stroke="#420c26" stroke-width="1.4"/>
<line x1="313.50" y1="647.30" x2="313.50" y2="644.30" stroke="#420c26" stroke-width="1.4"/>
<line x1="310.50" y1="644.30" x2="316.50" y2="644.30" stroke="#420c26" stroke-width="1.4"/>
<line x1="313.50" y1="647.30" x2="313.50" y2="650.30" stroke="#420c26" stroke-width="1.4"/>
<line x1="310.50" y1="650.30" x2="316.50" y2="650.30" stroke="#420c26" stroke-width="1.4"/>
<line x1="365.20" y1="657.30" x2="365.20" y2="653.80" stroke="#420c26" stroke-width="1.4"/>
<line x1="362.20" y1="653.80" x2="368.20" y2="653.80" stroke="#420c26" stroke-width="1.4"/>
<line x1="365.20" y1="657.30" x2="365.20" y2="660.80" stroke="#420c26" stroke-width="1.4"/>
<line x1="362.20" y1="660.80" x2="368.20" y2="660.80" stroke="#420c26" stroke-width="1.4"/>
<line x1="416.90" y1="690.20" x2="416.90" y2="686.70" stroke="#420c26" stroke-width="1.4"/>
<line x1="413.90" y1="686.70" x2="419.90" y2="686.70" stroke="#420c26" stroke-width="1.4"/>
<line x1="416.90" y1="690.20" x2="416.90" y2="693.70" stroke="#420c26" stroke-width="1.4"/>
<line x1="413.90" y1="693.70" x2="419.90" y2="693.70" stroke="#420c26" stroke-width="1.4"/>
<line x1="466.00" y1="691.00" x2="466.00" y2="688.00" stroke="#420c26" stroke-width="1.4"/>
<line x1="463.00" y1="688.00" x2="469.00" y2="688.00" stroke="#420c26" stroke-width="1.4"/>
<line x1="466.00" y1="691.00" x2="466.00" y2="694.00" stroke="#420c26" stroke-width="1.4"/>
<line x1="463.00" y1="694.00" x2="469.00" y2="694.00" stroke="#420c26" stroke-width="1.4"/>
<polyline points="53.80,682.10 106.50,611.30 158.50,693.40 209.90,653.30 259.90,690.60 313.50,647.30 365.20,657.30 416.90,690.20 466.00,691.00" fill="none" stroke="#2e0a1c" stroke-width="2.0" stroke-linejoin="miter" stroke-dasharray="0.4 2.6" stroke-linecap="round"/>
<line x1="53.80" y1="690.20" x2="53.80" y2="687.70" stroke="#161a42" stroke-width="1.4"/>
<line x1="50.80" y1="687.70" x2="56.80" y2="687.70" stroke="#161a42" stroke-width="1.4"/>
<line x1="53.80" y1="690.20" x2="53.80" y2="692.70" stroke="#161a42" stroke-width="1.4"/>
<line x1="50.80" y1="692.70" x2="56.80" y2="692.70" stroke="#161a42" stroke-width="1.4"/>
<line x1="106.50" y1="616.50" x2="106.50" y2="614.00" stroke="#161a42" stroke-width="1.4"/>
<line x1="103.50" y1="614.00" x2="109.50" y2="614.00" stroke="#161a42" stroke-width="1.4"/>
<line x1="106.50" y1="616.50" x2="106.50" y2="619.00" stroke="#161a42" stroke-width="1.4"/>
<line x1="103.50" y1="619.00" x2="109.50" y2="619.00" stroke="#161a42" stroke-width="1.4"/>
<line x1="158.50" y1="699.90" x2="158.50" y2="697.40" stroke="#161a42" stroke-width="1.4"/>
<line x1="155.50" y1="697.40" x2="161.50" y2="697.40" stroke="#161a42" stroke-width="1.4"/>
<line x1="158.50" y1="699.90" x2="158.50" y2="702.40" stroke="#161a42" stroke-width="1.4"/>
<line x1="155.50" y1="702.40" x2="161.50" y2="702.40" stroke="#161a42" stroke-width="1.4"/>
<line x1="209.90" y1="658.00" x2="209.90" y2="655.50" stroke="#161a42" stroke-width="1.4"/>
<line x1="206.90" y1="655.50" x2="212.90" y2="655.50" stroke="#161a42" stroke-width="1.4"/>
<line x1="209.90" y1="658.00" x2="209.90" y2="660.50" stroke="#161a42" stroke-width="1.4"/>
<line x1="206.90" y1="660.50" x2="212.90" y2="660.50" stroke="#161a42" stroke-width="1.4"/>
<line x1="259.90" y1="695.40" x2="259.90" y2="692.90" stroke="#161a42" stroke-width="1.4"/>
<line x1="256.90" y1="692.90" x2="262.90" y2="692.90" stroke="#161a42" stroke-width="1.4"/>
<line x1="259.90" y1="695.40" x2="259.90" y2="697.90" stroke="#161a42" stroke-width="1.4"/>
<line x1="256.90" y1="697.90" x2="262.90" y2="697.90" stroke="#161a42" stroke-width="1.4"/>
<line x1="313.50" y1="647.30" x2="313.50" y2="644.80" stroke="#161a42" stroke-width="1.4"/>
<line x1="310.50" y1="644.80" x2="316.50" y2="644.80" stroke="#161a42" stroke-width="1.4"/>
<line x1="313.50" y1="647.30" x2="313.50" y2="649.80" stroke="#161a42" stroke-width="1.4"/>
<line x1="310.50" y1="649.80" x2="316.50" y2="649.80" stroke="#161a42" stroke-width="1.4"/>
<line x1="365.20" y1="663.70" x2="365.20" y2="661.20" stroke="#161a42" stroke-width="1.4"/>
<line x1="362.20" y1="661.20" x2="368.20" y2="661.20" stroke="#161a42" stroke-width="1.4"/>
<line x1="365.20" y1="663.70" x2="365.20" y2="666.20" stroke="#161a42" stroke-width="1.4"/>
<line x1="362.20" y1="666.20" x2="368.20" y2="666.20" stroke="#161a42" stroke-width="1.4"/>
<line x1="416.90" y1="696.80" x2="416.90" y2="694.30" stroke="#161a42" stroke-width="1.4"/>
<line x1="413.90" y1="694.30" x2="419.90" y2="694.30" stroke="#161a42" stroke-width="1.4"/>
<line x1="416.90" y1="696.80" x2="416.90" y2="699.30" stroke="#161a42" stroke-width="1.4"/>
<line x1="413.90" y1="699.30" x2="419.90" y2="699.30" stroke="#161a42" stroke-width="1.4"/>
<line x1="466.00" y1="691.00" x2="466.00" y2="688.50" stroke="#161a42" stroke-width="1.4"/>
<line x1="463.00" y1="688.50" x2="469.00" y2="688.50" stroke="#161a42" stroke-width="1.4"/>
<line x1="466.00" y1="691.00" x2="466.00" y2="693.50" stroke="#161a42" stroke-width="1.4"/>
<line x1="463.00" y1="693.50" x2="469.00" y2="693.50" stroke="#161a42" stroke-width="1.4"/>
<polyline points="53.80,690.20 106.50,616.50 158.50,699.90 209.90,658.00 259.90,695.40 313.50,647.30 365.20,663.70 416.90,696.80 466.00,691.00" fill="none" stroke="#121634" stroke-width="2.0" stroke-linejoin="miter" stroke-dasharray="0.4 2.6" stroke-linecap="round"/>
<rect x="50.80" y="679.10" width="6.00" height="6.00" fill="#fff" stroke="#420c26" stroke-width="1.8"/>
<rect x="103.50" y="608.30" width="6.00" height="6.00" fill="#fff" stroke="#420c26" stroke-width="1.8"/>
<rect x="155.50" y="690.40" width="6.00" height="6.00" fill="#fff" stroke="#420c26" stroke-width="1.8"/>
<rect x="206.90" y="650.30" width="6.00" height="6.00" fill="#fff" stroke="#420c26" stroke-width="1.8"/>
<rect x="256.90" y="687.60" width="6.00" height="6.00" fill="#fff" stroke="#420c26" stroke-width="1.8"/>
<rect x="310.50" y="644.30" width="6.00" height="6.00" fill="#fff" stroke="#420c26" stroke-width="1.8"/>
<rect x="362.20" y="654.30" width="6.00" height="6.00" fill="#fff" stroke="#420c26" stroke-width="1.8"/>
<rect x="413.90" y="687.20" width="6.00" height="6.00" fill="#fff" stroke="#420c26" stroke-width="1.8"/>
<rect x="463.00" y="688.00" width="6.00" height="6.00" fill="#fff" stroke="#420c26" stroke-width="1.8"/>
<polygon points="53.80,686.50 58.40,690.20 53.80,693.90 49.20,690.20" fill="#fff" stroke="#161a42" stroke-width="1.9"/>
<polygon points="106.50,612.80 111.10,616.50 106.50,620.20 101.90,616.50" fill="#fff" stroke="#161a42" stroke-width="1.9"/>
<polygon points="158.50,696.20 163.10,699.90 158.50,703.60 153.90,699.90" fill="#fff" stroke="#161a42" stroke-width="1.9"/>
<polygon points="209.90,654.30 214.50,658.00 209.90,661.70 205.30,658.00" fill="#fff" stroke="#161a42" stroke-width="1.9"/>
<polygon points="259.90,691.70 264.50,695.40 259.90,699.10 255.30,695.40" fill="#fff" stroke="#161a42" stroke-width="1.9"/>
<polygon points="313.50,643.60 318.10,647.30 313.50,651.00 308.90,647.30" fill="#fff" stroke="#161a42" stroke-width="1.9"/>
<polygon points="365.20,660.00 369.80,663.70 365.20,667.40 360.60,663.70" fill="#fff" stroke="#161a42" stroke-width="1.9"/>
<polygon points="416.90,693.10 421.50,696.80 416.90,700.50 412.30,696.80" fill="#fff" stroke="#161a42" stroke-width="1.9"/>
<polygon points="466.00,687.30 470.60,691.00 466.00,694.70 461.40,691.00" fill="#fff" stroke="#161a42" stroke-width="1.9"/>
<line x1="53.80" y1="769.60" x2="53.80" y2="766.60" stroke="#420c26" stroke-width="1.4"/>
<line x1="50.80" y1="766.60" x2="56.80" y2="766.60" stroke="#420c26" stroke-width="1.4"/>
<line x1="53.80" y1="769.60" x2="53.80" y2="772.60" stroke="#420c26" stroke-width="1.4"/>
<line x1="50.80" y1="772.60" x2="56.80" y2="772.60" stroke="#420c26" stroke-width="1.4"/>
<line x1="106.50" y1="699.50" x2="106.50" y2="694.40" stroke="#420c26" stroke-width="1.4"/>
<line x1="103.50" y1="694.40" x2="109.50" y2="694.40" stroke="#420c26" stroke-width="1.4"/>
<line x1="106.50" y1="699.50" x2="106.50" y2="704.60" stroke="#420c26" stroke-width="1.4"/>
<line x1="103.50" y1="704.60" x2="109.50" y2="704.60" stroke="#420c26" stroke-width="1.4"/>
<line x1="158.50" y1="741.40" x2="158.50" y2="738.40" stroke="#420c26" stroke-width="1.4"/>
<line x1="155.50" y1="738.40" x2="161.50" y2="738.40" stroke="#420c26" stroke-width="1.4"/>
<line x1="158.50" y1="741.40" x2="158.50" y2="744.40" stroke="#420c26" stroke-width="1.4"/>
<line x1="155.50" y1="744.40" x2="161.50" y2="744.40" stroke="#420c26" stroke-width="1.4"/>
<line x1="209.90" y1="702.80" x2="209.90" y2="699.80" stroke="#420c26" stroke-width="1.4"/>
<line x1="206.90" y1="699.80" x2="212.90" y2="699.80" stroke="#420c26" stroke-width="1.4"/>
<line x1="209.90" y1="702.80" x2="209.90" y2="705.80" stroke="#420c26" stroke-width="1.4"/>
<line x1="206.90" y1="705.80" x2="212.90" y2="705.80" stroke="#420c26" stroke-width="1.4"/>
<line x1="259.90" y1="730.90" x2="259.90" y2="727.90" stroke="#420c26" stroke-width="1.4"/>
<line x1="256.90" y1="727.90" x2="262.90" y2="727.90" stroke="#420c26" stroke-width="1.4"/>
<line x1="259.90" y1="730.90" x2="259.90" y2="733.90" stroke="#420c26" stroke-width="1.4"/>
<line x1="256.90" y1="733.90" x2="262.90" y2="733.90" stroke="#420c26" stroke-width="1.4"/>
<line x1="313.50" y1="686.80" x2="313.50" y2="683.80" stroke="#420c26" stroke-width="1.4"/>
<line x1="310.50" y1="683.80" x2="316.50" y2="683.80" stroke="#420c26" stroke-width="1.4"/>
<line x1="313.50" y1="686.80" x2="313.50" y2="689.80" stroke="#420c26" stroke-width="1.4"/>
<line x1="310.50" y1="689.80" x2="316.50" y2="689.80" stroke="#420c26" stroke-width="1.4"/>
<line x1="365.20" y1="707.90" x2="365.20" y2="702.90" stroke="#420c26" stroke-width="1.4"/>
<line x1="362.20" y1="702.90" x2="368.20" y2="702.90" stroke="#420c26" stroke-width="1.4"/>
<line x1="365.20" y1="707.90" x2="365.20" y2="712.90" stroke="#420c26" stroke-width="1.4"/>
<line x1="362.20" y1="712.90" x2="368.20" y2="712.90" stroke="#420c26" stroke-width="1.4"/>
<line x1="416.90" y1="756.50" x2="416.90" y2="752.00" stroke="#420c26" stroke-width="1.4"/>
<line x1="413.90" y1="752.00" x2="419.90" y2="752.00" stroke="#420c26" stroke-width="1.4"/>
<line x1="416.90" y1="756.50" x2="416.90" y2="761.00" stroke="#420c26" stroke-width="1.4"/>
<line x1="413.90" y1="761.00" x2="419.90" y2="761.00" stroke="#420c26" stroke-width="1.4"/>
<line x1="466.00" y1="765.50" x2="466.00" y2="762.50" stroke="#420c26" stroke-width="1.4"/>
<line x1="463.00" y1="762.50" x2="469.00" y2="762.50" stroke="#420c26" stroke-width="1.4"/>
<line x1="466.00" y1="765.50" x2="466.00" y2="768.50" stroke="#420c26" stroke-width="1.4"/>
<line x1="463.00" y1="768.50" x2="469.00" y2="768.50" stroke="#420c26" stroke-width="1.4"/>
<polyline points="53.80,769.60 106.50,699.50 158.50,741.40 209.90,702.80 259.90,730.90 313.50,686.80 365.20,707.90 416.90,756.50 466.00,765.50" fill="none" stroke="#400c24" stroke-width="2.2" stroke-linejoin="miter"/>
<rect x="50.90" y="766.70" width="5.80" height="5.80" fill="#861a4e" stroke="#420c26" stroke-width="0.7"/>
<rect x="103.60" y="696.60" width="5.80" height="5.80" fill="#861a4e" stroke="#420c26" stroke-width="0.7"/>
<rect x="155.60" y="738.50" width="5.80" height="5.80" fill="#861a4e" stroke="#420c26" stroke-width="0.7"/>
<rect x="207.00" y="699.90" width="5.80" height="5.80" fill="#861a4e" stroke="#420c26" stroke-width="0.7"/>
<rect x="257.00" y="728.00" width="5.80" height="5.80" fill="#861a4e" stroke="#420c26" stroke-width="0.7"/>
<rect x="310.60" y="683.90" width="5.80" height="5.80" fill="#861a4e" stroke="#420c26" stroke-width="0.7"/>
<rect x="362.30" y="705.00" width="5.80" height="5.80" fill="#861a4e" stroke="#420c26" stroke-width="0.7"/>
<rect x="414.00" y="753.60" width="5.80" height="5.80" fill="#861a4e" stroke="#420c26" stroke-width="0.7"/>
<rect x="463.10" y="762.60" width="5.80" height="5.80" fill="#861a4e" stroke="#420c26" stroke-width="0.7"/>
<line x1="53.80" y1="765.80" x2="53.80" y2="762.30" stroke="#161a42" stroke-width="1.4"/>
<line x1="50.80" y1="762.30" x2="56.80" y2="762.30" stroke="#161a42" stroke-width="1.4"/>
<line x1="53.80" y1="765.80" x2="53.80" y2="769.30" stroke="#161a42" stroke-width="1.4"/>
<line x1="50.80" y1="769.30" x2="56.80" y2="769.30" stroke="#161a42" stroke-width="1.4"/>
<line x1="106.50" y1="702.60" x2="106.50" y2="699.10" stroke="#161a42" stroke-width="1.4"/>
<line x1="103.50" y1="699.10" x2="109.50" y2="699.10" stroke="#161a42" stroke-width="1.4"/>
<line x1="106.50" y1="702.60" x2="106.50" y2="706.10" stroke="#161a42" stroke-width="1.4"/>
<line x1="103.50" y1="706.10" x2="109.50" y2="706.10" stroke="#161a42" stroke-width="1.4"/>
<line x1="158.50" y1="749.30" x2="158.50" y2="746.30" stroke="#161a42" stroke-width="1.4"/>
<line x1="155.50" y1="746.30" x2="161.50" y2="746.30" stroke="#161a42" stroke-width="1.4"/>
<line x1="158.50" y1="749.30" x2="158.50" y2="752.30" stroke="#161a42" stroke-width="1.4"/>
<line x1="155.50" y1="752.30" x2="161.50" y2="752.30" stroke="#161a42" stroke-width="1.4"/>
<line x1="209.90" y1="700.50" x2="209.90" y2="696.30" stroke="#161a42" stroke-width="1.4"/>
<line x1="206.90" y1="696.30" x2="212.90" y2="696.30" stroke="#161a42" stroke-width="1.4"/>
<line x1="209.90" y1="700.50" x2="209.90" y2="704.70" stroke="#161a42" stroke-width="1.4"/>
<line x1="206.90" y1="704.70" x2="212.90" y2="704.70" stroke="#161a42" stroke-width="1.4"/>
<line x1="259.90" y1="734.60" x2="259.90" y2="731.60" stroke="#161a42" stroke-width="1.4"/>
<line x1="256.90" y1="731.60" x2="262.90" y2="731.60" stroke="#161a42" stroke-width="1.4"/>
<line x1="259.90" y1="734.60" x2="259.90" y2="737.60" stroke="#161a42" stroke-width="1.4"/>
<line x1="256.90" y1="737.60" x2="262.90" y2="737.60" stroke="#161a42" stroke-width="1.4"/>
<line x1="313.50" y1="686.80" x2="313.50" y2="683.80" stroke="#161a42" stroke-width="1.4"/>
<line x1="310.50" y1="683.80" x2="316.50" y2="683.80" stroke="#161a42" stroke-width="1.4"/>
<line x1="313.50" y1="686.80" x2="313.50" y2="689.80" stroke="#161a42" stroke-width="1.4"/>
<line x1="310.50" y1="689.80" x2="316.50" y2="689.80" stroke="#161a42" stroke-width="1.4"/>
<line x1="365.20" y1="707.90" x2="365.20" y2="702.90" stroke="#161a42" stroke-width="1.4"/>
<line x1="362.20" y1="702.90" x2="368.20" y2="702.90" stroke="#161a42" stroke-width="1.4"/>
<line x1="365.20" y1="707.90" x2="365.20" y2="712.90" stroke="#161a42" stroke-width="1.4"/>
<line x1="362.20" y1="712.90" x2="368.20" y2="712.90" stroke="#161a42" stroke-width="1.4"/>
<line x1="416.90" y1="754.80" x2="416.90" y2="751.80" stroke="#161a42" stroke-width="1.4"/>
<line x1="413.90" y1="751.80" x2="419.90" y2="751.80" stroke="#161a42" stroke-width="1.4"/>
<line x1="416.90" y1="754.80" x2="416.90" y2="757.80" stroke="#161a42" stroke-width="1.4"/>
<line x1="413.90" y1="757.80" x2="419.90" y2="757.80" stroke="#161a42" stroke-width="1.4"/>
<line x1="466.00" y1="767.70" x2="466.00" y2="764.70" stroke="#161a42" stroke-width="1.4"/>
<line x1="463.00" y1="764.70" x2="469.00" y2="764.70" stroke="#161a42" stroke-width="1.4"/>
<line x1="466.00" y1="767.70" x2="466.00" y2="770.70" stroke="#161a42" stroke-width="1.4"/>
<line x1="463.00" y1="770.70" x2="469.00" y2="770.70" stroke="#161a42" stroke-width="1.4"/>
<polyline points="53.80,765.80 106.50,702.60 158.50,749.30 209.90,700.50 259.90,734.60 313.50,686.80 365.20,707.90 416.90,754.80 466.00,767.70" fill="none" stroke="#151a3c" stroke-width="2.2" stroke-linejoin="miter"/>
<polygon points="53.80,761.70 57.70,765.80 53.80,769.90 49.90,765.80" fill="#2c3a88" stroke="#161a42" stroke-width="0.8"/>
<polygon points="106.50,698.50 110.40,702.60 106.50,706.70 102.60,702.60" fill="#2c3a88" stroke="#161a42" stroke-width="0.8"/>
<polygon points="158.50,745.20 162.40,749.30 158.50,753.40 154.60,749.30" fill="#2c3a88" stroke="#161a42" stroke-width="0.8"/>
<polygon points="209.90,696.40 213.80,700.50 209.90,704.60 206.00,700.50" fill="#2c3a88" stroke="#161a42" stroke-width="0.8"/>
<polygon points="259.90,730.50 263.80,734.60 259.90,738.70 256.00,734.60" fill="#2c3a88" stroke="#161a42" stroke-width="0.8"/>
<polygon points="313.50,682.70 317.40,686.80 313.50,690.90 309.60,686.80" fill="#2c3a88" stroke="#161a42" stroke-width="0.8"/>
<polygon points="365.20,703.80 369.10,707.90 365.20,712.00 361.30,707.90" fill="#2c3a88" stroke="#161a42" stroke-width="0.8"/>
<polygon points="416.90,750.70 420.80,754.80 416.90,758.90 413.00,754.80" fill="#2c3a88" stroke="#161a42" stroke-width="0.8"/>
<polygon points="466.00,763.60 469.90,767.70 466.00,771.80 462.10,767.70" fill="#2c3a88" stroke="#161a42" stroke-width="0.8"/>
</svg></body></html>
